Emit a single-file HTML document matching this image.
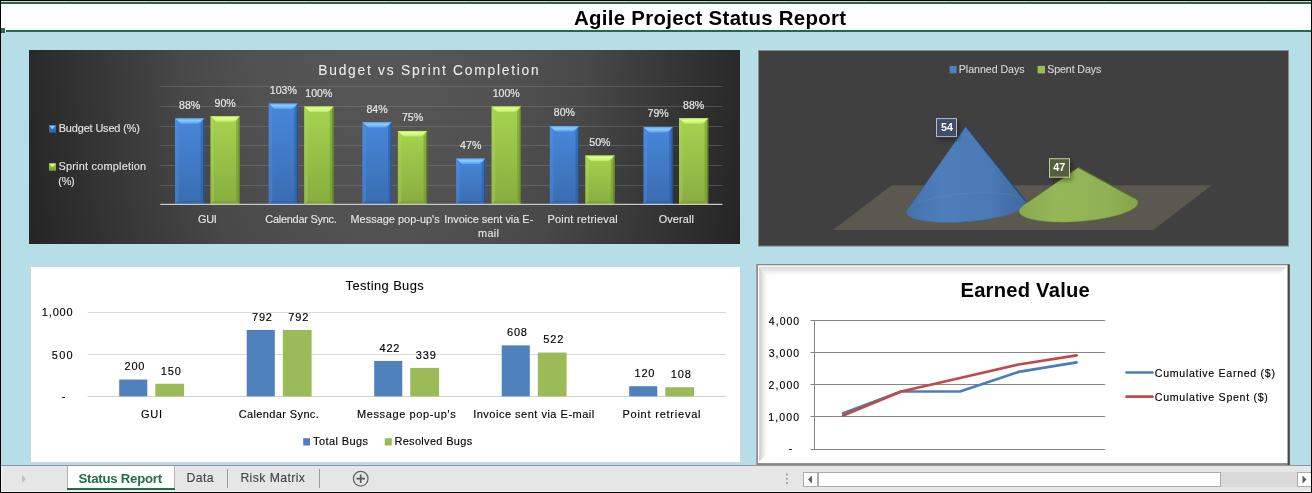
<!DOCTYPE html>
<html><head><meta charset="utf-8"><title>Agile Project Status Report</title>
<style>
html,body{margin:0;padding:0;}
body{width:1312px;height:493px;overflow:hidden;background:#b7dee8;position:relative;font-family:"Liberation Sans",sans-serif;}
.abs{position:absolute;}
.t{position:absolute;white-space:nowrap;line-height:1;-webkit-text-stroke:0.14px currentColor;}
#txt{position:absolute;left:0;top:0;width:1312px;height:493px;will-change:transform;}
svg{position:absolute;left:0;top:0;will-change:transform;}
svg text{font-family:"Liberation Sans",sans-serif;}
</style></head><body>

<div class="abs" style="left:0;top:0;width:1312px;height:32px;background:#fff"></div>
<div class="abs" style="left:0;top:0;width:1312px;height:1px;background:#000"></div>
<div class="abs" style="left:0;top:1px;width:1312px;height:1px;background:#d4d4d4"></div>
<div class="abs" style="left:69px;top:1px;width:1px;height:1px;background:#9a9a9a"></div>
<div class="abs" style="left:149px;top:1px;width:1px;height:1px;background:#9a9a9a"></div>
<div class="abs" style="left:229px;top:1px;width:1px;height:1px;background:#9a9a9a"></div>
<div class="abs" style="left:309px;top:1px;width:1px;height:1px;background:#9a9a9a"></div>
<div class="abs" style="left:389px;top:1px;width:1px;height:1px;background:#9a9a9a"></div>
<div class="abs" style="left:469px;top:1px;width:1px;height:1px;background:#9a9a9a"></div>
<div class="abs" style="left:549px;top:1px;width:1px;height:1px;background:#9a9a9a"></div>
<div class="abs" style="left:629px;top:1px;width:1px;height:1px;background:#9a9a9a"></div>
<div class="abs" style="left:709px;top:1px;width:1px;height:1px;background:#9a9a9a"></div>
<div class="abs" style="left:789px;top:1px;width:1px;height:1px;background:#9a9a9a"></div>
<div class="abs" style="left:869px;top:1px;width:1px;height:1px;background:#9a9a9a"></div>
<div class="abs" style="left:949px;top:1px;width:1px;height:1px;background:#9a9a9a"></div>
<div class="abs" style="left:1029px;top:1px;width:1px;height:1px;background:#9a9a9a"></div>
<div class="abs" style="left:1109px;top:1px;width:1px;height:1px;background:#9a9a9a"></div>
<div class="abs" style="left:1189px;top:1px;width:1px;height:1px;background:#9a9a9a"></div>
<div class="abs" style="left:1269px;top:1px;width:1px;height:1px;background:#9a9a9a"></div>
<div class="abs" style="left:0;top:2px;width:1312px;height:2px;background:#1e6e42"></div>
<div class="abs" style="left:6px;top:30px;width:1306px;height:2px;background:#1e6e42"></div>
<div class="abs" style="left:1px;top:28px;width:4px;height:5px;background:#1e7145"></div>
<div class="abs" style="left:29px;top:50px;width:711px;height:194px;background:radial-gradient(ellipse 385px 700px at 50% -58px,#585858 0%,#515151 35%,#484848 54%,#3f3f3f 64%,#393939 72%,#2b2b2b 90%,#242424 100%)"></div>
<svg width="1312" height="493" viewBox="0 0 1312 493">
<defs>
<linearGradient id="gb" x1="0" y1="0" x2="0" y2="1"><stop offset="0" stop-color="#4787da"/><stop offset="1" stop-color="#3a6db2"/></linearGradient>
<linearGradient id="gg" x1="0" y1="0" x2="0" y2="1"><stop offset="0" stop-color="#a6d350"/><stop offset="1" stop-color="#88ad40"/></linearGradient>
<linearGradient id="gbt" x1="0" y1="0" x2="0" y2="1"><stop offset="0" stop-color="#5fa6f2"/><stop offset="0.4" stop-color="#8accff"/><stop offset="1" stop-color="#5a9ff0"/></linearGradient>
<linearGradient id="ggt" x1="0" y1="0" x2="0" y2="1"><stop offset="0" stop-color="#bdf060"/><stop offset="0.4" stop-color="#e4ff95"/><stop offset="1" stop-color="#b8ea62"/></linearGradient>
<linearGradient id="cone_b" x1="0" y1="0" x2="1" y2="0"><stop offset="0" stop-color="#4471aa"/><stop offset="0.3" stop-color="#4e7fbb"/><stop offset="0.7" stop-color="#4a79b4"/><stop offset="1" stop-color="#3f689e"/></linearGradient>
<linearGradient id="cone_g" x1="0" y1="0" x2="1" y2="0"><stop offset="0" stop-color="#88a84c"/><stop offset="0.3" stop-color="#95b758"/><stop offset="0.75" stop-color="#90b153"/><stop offset="1" stop-color="#84a64a"/></linearGradient>
<filter id="sh" x="-30%" y="-30%" width="180%" height="180%"><feGaussianBlur stdDeviation="2"/></filter>
</defs>
<line x1="160.3" y1="86.50" x2="722.5" y2="86.50" stroke="#8a8a8a" stroke-opacity="0.38" stroke-width="1"/>
<line x1="160.3" y1="106.50" x2="722.5" y2="106.50" stroke="#8a8a8a" stroke-opacity="0.38" stroke-width="1"/>
<line x1="160.3" y1="126.50" x2="722.5" y2="126.50" stroke="#8a8a8a" stroke-opacity="0.38" stroke-width="1"/>
<line x1="160.3" y1="145.50" x2="722.5" y2="145.50" stroke="#8a8a8a" stroke-opacity="0.38" stroke-width="1"/>
<line x1="160.3" y1="165.50" x2="722.5" y2="165.50" stroke="#8a8a8a" stroke-opacity="0.38" stroke-width="1"/>
<line x1="160.3" y1="185.50" x2="722.5" y2="185.50" stroke="#8a8a8a" stroke-opacity="0.38" stroke-width="1"/>
<rect x="175.00" y="118.19" width="29.20" height="85.81" fill="url(#gb)"/><polygon points="175.00,118.19 178.60,123.69 178.60,201.00 175.00,204.00" fill="#5a9cf0" opacity="0.28"/><polygon points="204.20,118.19 200.60,123.69 200.60,201.00 204.20,204.00" fill="#2a5ca6" opacity="0.55"/><rect x="203.10" y="118.69" width="1.1" height="85.31" fill="#1f4680" opacity="0.7"/><polygon points="175.00,204.00 178.60,201.00 200.60,201.00 204.20,204.00" fill="#2f5c98" opacity="0.45"/><polygon points="175.00,118.19 204.20,118.19 198.40,123.69 180.80,123.69" fill="url(#gbt)"/>
<rect x="210.50" y="116.23" width="29.20" height="87.77" fill="url(#gg)"/><polygon points="210.50,116.23 214.10,121.73 214.10,201.00 210.50,204.00" fill="#b4e060" opacity="0.28"/><polygon points="239.70,116.23 236.10,121.73 236.10,201.00 239.70,204.00" fill="#6f962e" opacity="0.55"/><rect x="238.60" y="116.73" width="1.1" height="87.27" fill="#55741f" opacity="0.7"/><polygon points="210.50,204.00 214.10,201.00 236.10,201.00 239.70,204.00" fill="#769838" opacity="0.45"/><polygon points="210.50,116.23 239.70,116.23 233.90,121.73 216.30,121.73" fill="url(#ggt)"/>
<rect x="268.70" y="103.45" width="29.20" height="100.55" fill="url(#gb)"/><polygon points="268.70,103.45 272.30,108.95 272.30,201.00 268.70,204.00" fill="#5a9cf0" opacity="0.28"/><polygon points="297.90,103.45 294.30,108.95 294.30,201.00 297.90,204.00" fill="#2a5ca6" opacity="0.55"/><rect x="296.80" y="103.95" width="1.1" height="100.05" fill="#1f4680" opacity="0.7"/><polygon points="268.70,204.00 272.30,201.00 294.30,201.00 297.90,204.00" fill="#2f5c98" opacity="0.45"/><polygon points="268.70,103.45 297.90,103.45 292.10,108.95 274.50,108.95" fill="url(#gbt)"/>
<rect x="304.20" y="106.40" width="29.20" height="97.60" fill="url(#gg)"/><polygon points="304.20,106.40 307.80,111.90 307.80,201.00 304.20,204.00" fill="#b4e060" opacity="0.28"/><polygon points="333.40,106.40 329.80,111.90 329.80,201.00 333.40,204.00" fill="#6f962e" opacity="0.55"/><rect x="332.30" y="106.90" width="1.1" height="97.10" fill="#55741f" opacity="0.7"/><polygon points="304.20,204.00 307.80,201.00 329.80,201.00 333.40,204.00" fill="#769838" opacity="0.45"/><polygon points="304.20,106.40 333.40,106.40 327.60,111.90 310.00,111.90" fill="url(#ggt)"/>
<rect x="362.40" y="122.12" width="29.20" height="81.88" fill="url(#gb)"/><polygon points="362.40,122.12 366.00,127.62 366.00,201.00 362.40,204.00" fill="#5a9cf0" opacity="0.28"/><polygon points="391.60,122.12 388.00,127.62 388.00,201.00 391.60,204.00" fill="#2a5ca6" opacity="0.55"/><rect x="390.50" y="122.62" width="1.1" height="81.38" fill="#1f4680" opacity="0.7"/><polygon points="362.40,204.00 366.00,201.00 388.00,201.00 391.60,204.00" fill="#2f5c98" opacity="0.45"/><polygon points="362.40,122.12 391.60,122.12 385.80,127.62 368.20,127.62" fill="url(#gbt)"/>
<rect x="397.90" y="130.96" width="29.20" height="73.04" fill="url(#gg)"/><polygon points="397.90,130.96 401.50,136.46 401.50,201.00 397.90,204.00" fill="#b4e060" opacity="0.28"/><polygon points="427.10,130.96 423.50,136.46 423.50,201.00 427.10,204.00" fill="#6f962e" opacity="0.55"/><rect x="426.00" y="131.46" width="1.1" height="72.54" fill="#55741f" opacity="0.7"/><polygon points="397.90,204.00 401.50,201.00 423.50,201.00 427.10,204.00" fill="#769838" opacity="0.45"/><polygon points="397.90,130.96 427.10,130.96 421.30,136.46 403.70,136.46" fill="url(#ggt)"/>
<rect x="456.10" y="158.47" width="29.20" height="45.53" fill="url(#gb)"/><polygon points="456.10,158.47 459.70,163.97 459.70,201.00 456.10,204.00" fill="#5a9cf0" opacity="0.28"/><polygon points="485.30,158.47 481.70,163.97 481.70,201.00 485.30,204.00" fill="#2a5ca6" opacity="0.55"/><rect x="484.20" y="158.97" width="1.1" height="45.03" fill="#1f4680" opacity="0.7"/><polygon points="456.10,204.00 459.70,201.00 481.70,201.00 485.30,204.00" fill="#2f5c98" opacity="0.45"/><polygon points="456.10,158.47 485.30,158.47 479.50,163.97 461.90,163.97" fill="url(#gbt)"/>
<rect x="491.60" y="106.40" width="29.20" height="97.60" fill="url(#gg)"/><polygon points="491.60,106.40 495.20,111.90 495.20,201.00 491.60,204.00" fill="#b4e060" opacity="0.28"/><polygon points="520.80,106.40 517.20,111.90 517.20,201.00 520.80,204.00" fill="#6f962e" opacity="0.55"/><rect x="519.70" y="106.90" width="1.1" height="97.10" fill="#55741f" opacity="0.7"/><polygon points="491.60,204.00 495.20,201.00 517.20,201.00 520.80,204.00" fill="#769838" opacity="0.45"/><polygon points="491.60,106.40 520.80,106.40 515.00,111.90 497.40,111.90" fill="url(#ggt)"/>
<rect x="549.80" y="126.05" width="29.20" height="77.95" fill="url(#gb)"/><polygon points="549.80,126.05 553.40,131.55 553.40,201.00 549.80,204.00" fill="#5a9cf0" opacity="0.28"/><polygon points="579.00,126.05 575.40,131.55 575.40,201.00 579.00,204.00" fill="#2a5ca6" opacity="0.55"/><rect x="577.90" y="126.55" width="1.1" height="77.45" fill="#1f4680" opacity="0.7"/><polygon points="549.80,204.00 553.40,201.00 575.40,201.00 579.00,204.00" fill="#2f5c98" opacity="0.45"/><polygon points="549.80,126.05 579.00,126.05 573.20,131.55 555.60,131.55" fill="url(#gbt)"/>
<rect x="585.30" y="155.53" width="29.20" height="48.47" fill="url(#gg)"/><polygon points="585.30,155.53 588.90,161.03 588.90,201.00 585.30,204.00" fill="#b4e060" opacity="0.28"/><polygon points="614.50,155.53 610.90,161.03 610.90,201.00 614.50,204.00" fill="#6f962e" opacity="0.55"/><rect x="613.40" y="156.03" width="1.1" height="47.97" fill="#55741f" opacity="0.7"/><polygon points="585.30,204.00 588.90,201.00 610.90,201.00 614.50,204.00" fill="#769838" opacity="0.45"/><polygon points="585.30,155.53 614.50,155.53 608.70,161.03 591.10,161.03" fill="url(#ggt)"/>
<rect x="643.50" y="127.03" width="29.20" height="76.97" fill="url(#gb)"/><polygon points="643.50,127.03 647.10,132.53 647.10,201.00 643.50,204.00" fill="#5a9cf0" opacity="0.28"/><polygon points="672.70,127.03 669.10,132.53 669.10,201.00 672.70,204.00" fill="#2a5ca6" opacity="0.55"/><rect x="671.60" y="127.53" width="1.1" height="76.47" fill="#1f4680" opacity="0.7"/><polygon points="643.50,204.00 647.10,201.00 669.10,201.00 672.70,204.00" fill="#2f5c98" opacity="0.45"/><polygon points="643.50,127.03 672.70,127.03 666.90,132.53 649.30,132.53" fill="url(#gbt)"/>
<rect x="679.00" y="118.19" width="29.20" height="85.81" fill="url(#gg)"/><polygon points="679.00,118.19 682.60,123.69 682.60,201.00 679.00,204.00" fill="#b4e060" opacity="0.28"/><polygon points="708.20,118.19 704.60,123.69 704.60,201.00 708.20,204.00" fill="#6f962e" opacity="0.55"/><rect x="707.10" y="118.69" width="1.1" height="85.31" fill="#55741f" opacity="0.7"/><polygon points="679.00,204.00 682.60,201.00 704.60,201.00 708.20,204.00" fill="#769838" opacity="0.45"/><polygon points="679.00,118.19 708.20,118.19 702.40,123.69 684.80,123.69" fill="url(#ggt)"/>
<line x1="160.3" y1="204.30" x2="722.5" y2="204.30" stroke="#c8c8c8" stroke-width="1.2"/>
<text x="189.60" y="108.59" font-size="10.6" fill="#e4e4e4" stroke="#e4e4e4" stroke-width="0.2" text-anchor="middle">88%</text>
<text x="225.10" y="106.63" font-size="10.6" fill="#e4e4e4" stroke="#e4e4e4" stroke-width="0.2" text-anchor="middle">90%</text>
<text x="283.30" y="93.85" font-size="10.6" fill="#e4e4e4" stroke="#e4e4e4" stroke-width="0.2" text-anchor="middle">103%</text>
<text x="318.80" y="96.80" font-size="10.6" fill="#e4e4e4" stroke="#e4e4e4" stroke-width="0.2" text-anchor="middle">100%</text>
<text x="377.00" y="112.52" font-size="10.6" fill="#e4e4e4" stroke="#e4e4e4" stroke-width="0.2" text-anchor="middle">84%</text>
<text x="412.50" y="121.36" font-size="10.6" fill="#e4e4e4" stroke="#e4e4e4" stroke-width="0.2" text-anchor="middle">75%</text>
<text x="470.70" y="148.87" font-size="10.6" fill="#e4e4e4" stroke="#e4e4e4" stroke-width="0.2" text-anchor="middle">47%</text>
<text x="506.20" y="96.80" font-size="10.6" fill="#e4e4e4" stroke="#e4e4e4" stroke-width="0.2" text-anchor="middle">100%</text>
<text x="564.40" y="116.45" font-size="10.6" fill="#e4e4e4" stroke="#e4e4e4" stroke-width="0.2" text-anchor="middle">80%</text>
<text x="599.90" y="145.93" font-size="10.6" fill="#e4e4e4" stroke="#e4e4e4" stroke-width="0.2" text-anchor="middle">50%</text>
<text x="658.10" y="117.43" font-size="10.6" fill="#e4e4e4" stroke="#e4e4e4" stroke-width="0.2" text-anchor="middle">79%</text>
<text x="693.60" y="108.59" font-size="10.6" fill="#e4e4e4" stroke="#e4e4e4" stroke-width="0.2" text-anchor="middle">88%</text>
<linearGradient id="mkb" x1="0" y1="0" x2="0" y2="1"><stop offset="0" stop-color="#3d7dd2"/><stop offset="1" stop-color="#2a5ea6"/></linearGradient><rect x="49" y="125.2" width="7" height="7.5" fill="url(#mkb)"/><polygon points="49.3,125.7 55.5,125.7 52.4,129.2" fill="#8ed0ff" opacity="0.95"/>
<linearGradient id="mkg" x1="0" y1="0" x2="0" y2="1"><stop offset="0" stop-color="#98c844"/><stop offset="1" stop-color="#7aa236"/></linearGradient><rect x="49" y="163.2" width="7" height="7.5" fill="url(#mkg)"/><polygon points="49.3,163.7 55.5,163.7 52.4,167.2" fill="#e4ff98" opacity="0.95"/>
<rect x="758.5" y="50.5" width="530" height="195.6" fill="#404040" stroke="#8a8a8a" stroke-width="1"/>
<polygon points="891.7,185.2 1211.7,185.2 1153.3,230 832.9,230" fill="#5b5850"/>
<path d="M965.80,126.40 L1025.19,200.63 L1025.70,201.41 L1026.01,202.22 L1026.12,203.04 L1026.02,203.87 L1025.72,204.72 L1025.23,205.58 L1024.53,206.44 L1023.63,207.31 L1022.54,208.18 L1021.26,209.05 L1019.80,209.91 L1018.15,210.77 L1016.33,211.61 L1014.34,212.44 L1012.18,213.25 L1009.87,214.05 L1007.42,214.82 L1004.82,215.57 L1002.10,216.29 L999.25,216.99 L996.29,217.65 L993.23,218.27 L990.08,218.86 L986.85,219.42 L983.55,219.93 L980.19,220.40 L976.78,220.83 L973.34,221.21 L969.87,221.55 L966.39,221.84 L962.92,222.08 L959.45,222.27 L956.01,222.41 L952.60,222.50 L949.24,222.55 L945.93,222.54 L942.69,222.48 L939.54,222.37 L936.47,222.21 L933.51,222.00 L930.66,221.74 L927.92,221.44 L925.32,221.09 L922.86,220.69 L920.54,220.25 L918.38,219.76 L916.38,219.24 L914.54,218.67 L912.89,218.07 L911.41,217.43 L910.12,216.76 L909.02,216.06 L908.12,215.32 L907.41,214.57 L906.90,213.79 L906.59,212.98 L906.48,212.16 L906.58,211.33 L906.88,210.48 L907.37,209.62 Z" fill="url(#cone_b)" stroke="#274571" stroke-width="0.6" stroke-opacity="0.6" stroke-linejoin="round"/><ellipse cx="966.3" cy="207.6" rx="60.0" ry="14.2" transform="rotate(-4.6 966.3 207.6)" fill="none" stroke="#6a98d0" stroke-width="0.7" opacity="0.3"/><path d="M965.80,126.40 L1025.19,200.63" stroke="#274571" stroke-width="1.3" stroke-opacity="0.85" fill="none" stroke-linecap="round"/>
<path d="M1078.40,167.40 L1133.69,197.76 L1134.99,198.55 L1136.05,199.39 L1136.87,200.25 L1137.44,201.14 L1137.76,202.06 L1137.84,203.00 L1137.66,203.95 L1137.24,204.92 L1136.57,205.89 L1135.65,206.87 L1134.50,207.85 L1133.10,208.83 L1131.48,209.80 L1129.64,210.76 L1127.58,211.70 L1125.32,212.62 L1122.85,213.52 L1120.20,214.39 L1117.38,215.23 L1114.39,216.04 L1111.25,216.81 L1107.98,217.53 L1104.58,218.22 L1101.07,218.85 L1097.46,219.44 L1093.78,219.97 L1090.03,220.45 L1086.23,220.87 L1082.40,221.23 L1078.55,221.53 L1074.70,221.78 L1070.87,221.96 L1067.08,222.07 L1063.32,222.13 L1059.64,222.12 L1056.03,222.04 L1052.52,221.91 L1049.11,221.71 L1045.83,221.45 L1042.69,221.12 L1039.70,220.74 L1036.87,220.30 L1034.22,219.81 L1031.75,219.26 L1029.48,218.66 L1027.41,218.01 L1025.56,217.31 L1023.94,216.57 L1022.54,215.79 L1021.38,214.98 L1020.45,214.13 L1019.78,213.25 L1019.35,212.34 L1019.16,211.41 L1019.23,210.46 L1019.55,209.50 L1020.11,208.53 L1020.92,207.55 L1021.98,206.57 L1023.27,205.59 Z" fill="url(#cone_g)" stroke="#55702a" stroke-width="0.6" stroke-opacity="0.6" stroke-linejoin="round"/><ellipse cx="1078.5" cy="207.0" rx="59.5" ry="14.5" transform="rotate(-4.3 1078.5 207.0)" fill="none" stroke="#a6c468" stroke-width="0.7" opacity="0.18"/><path d="M1078.40,167.40 L1133.69,197.76" stroke="#55702a" stroke-width="1.3" stroke-opacity="0.85" fill="none" stroke-linecap="round"/>
<rect x="938" y="121" width="21" height="19" fill="#000" opacity="0.35" filter="url(#sh)"/>
<rect x="1051" y="161" width="21" height="19.5" fill="#000" opacity="0.35" filter="url(#sh)"/>
<rect x="936.5" y="118.6" width="20" height="18" fill="#3f4e68" stroke="#b4bcc8" stroke-width="1"/>
<rect x="1049.5" y="158.7" width="20" height="18.5" fill="#555e3c" stroke="#c4cab0" stroke-width="1"/>
<text x="947" y="130.5" font-size="10.8" font-weight="bold" fill="#fff" text-anchor="middle">54</text>
<text x="1059.3" y="171" font-size="10.8" font-weight="bold" fill="#fff" text-anchor="middle">47</text>
<rect x="949.6" y="65.9" width="7" height="7.5" fill="#4f81bd"/>
<rect x="1037.6" y="65.9" width="7.4" height="7.5" fill="#9bbb59"/>
<rect x="30.5" y="266.5" width="710" height="196" fill="#fff" stroke="#d4d4d4" stroke-width="1"/>
<line x1="87.6" y1="312.5" x2="726" y2="312.5" stroke="#d9d9d9" stroke-width="1"/>
<line x1="87.6" y1="354.5" x2="726" y2="354.5" stroke="#d9d9d9" stroke-width="1"/>
<line x1="87.6" y1="396.5" x2="726" y2="396.5" stroke="#d0d0d0" stroke-width="1"/>
<rect x="119.20" y="379.54" width="28.1" height="16.76" fill="#4f81bd"/>
<rect x="155.30" y="383.73" width="28.8" height="12.57" fill="#9bbb59"/>
<text x="134.90" y="370.44" font-size="11" letter-spacing="0.85" fill="#000" stroke="#000" stroke-width="0.14" text-anchor="middle">200</text>
<text x="171.30" y="374.63" font-size="11" letter-spacing="0.85" fill="#000" stroke="#000" stroke-width="0.14" text-anchor="middle">150</text>
<rect x="246.70" y="329.93" width="28.1" height="66.37" fill="#4f81bd"/>
<rect x="282.80" y="329.93" width="28.8" height="66.37" fill="#9bbb59"/>
<text x="262.40" y="320.83" font-size="11" letter-spacing="0.85" fill="#000" stroke="#000" stroke-width="0.14" text-anchor="middle">792</text>
<text x="298.80" y="320.83" font-size="11" letter-spacing="0.85" fill="#000" stroke="#000" stroke-width="0.14" text-anchor="middle">792</text>
<rect x="374.20" y="360.94" width="28.1" height="35.36" fill="#4f81bd"/>
<rect x="410.30" y="367.89" width="28.8" height="28.41" fill="#9bbb59"/>
<text x="389.90" y="351.84" font-size="11" letter-spacing="0.85" fill="#000" stroke="#000" stroke-width="0.14" text-anchor="middle">422</text>
<text x="426.30" y="358.79" font-size="11" letter-spacing="0.85" fill="#000" stroke="#000" stroke-width="0.14" text-anchor="middle">339</text>
<rect x="501.70" y="345.35" width="28.1" height="50.95" fill="#4f81bd"/>
<rect x="537.80" y="352.56" width="28.8" height="43.74" fill="#9bbb59"/>
<text x="517.40" y="336.25" font-size="11" letter-spacing="0.85" fill="#000" stroke="#000" stroke-width="0.14" text-anchor="middle">608</text>
<text x="553.80" y="343.46" font-size="11" letter-spacing="0.85" fill="#000" stroke="#000" stroke-width="0.14" text-anchor="middle">522</text>
<rect x="629.20" y="386.24" width="28.1" height="10.06" fill="#4f81bd"/>
<rect x="665.30" y="387.25" width="28.8" height="9.05" fill="#9bbb59"/>
<text x="644.90" y="377.14" font-size="11" letter-spacing="0.85" fill="#000" stroke="#000" stroke-width="0.14" text-anchor="middle">120</text>
<text x="681.30" y="378.15" font-size="11" letter-spacing="0.85" fill="#000" stroke="#000" stroke-width="0.14" text-anchor="middle">108</text>
<rect x="303.2" y="438.2" width="6.8" height="7.3" fill="#4f81bd"/>
<rect x="384.8" y="438.2" width="7" height="7.3" fill="#9bbb59"/>
<linearGradient id="bvl" x1="0" y1="0" x2="1" y2="0"><stop offset="0" stop-color="#cbcbcb"/><stop offset="0.45" stop-color="#e6e6e6"/><stop offset="1" stop-color="#ffffff"/></linearGradient>
<linearGradient id="bvt" x1="0" y1="0" x2="0" y2="1"><stop offset="0" stop-color="#d6d6d6"/><stop offset="0.3" stop-color="#e2e2e2"/><stop offset="1" stop-color="#ffffff"/></linearGradient>
<rect x="756.3" y="264" width="533.4" height="201.6" fill="#878787"/>
<rect x="757.9" y="265.3" width="529.9" height="197.8" fill="#fff"/>
<rect x="1287.7" y="264.6" width="2" height="200.6" fill="#464646"/>
<rect x="1287.1" y="266" width="0.7" height="197" fill="#a8a8a8"/>
<polygon points="759.2,266.8 1286.6,266.8 1278.8,274.8 766.9,274.8" fill="url(#bvt)"/>
<polygon points="759.2,266.8 766.9,274.8 766.9,454 759.2,461.4" fill="url(#bvl)"/>
<line x1="810.4" y1="449.50" x2="1105.2" y2="449.50" stroke="#868686" stroke-width="1"/>
<line x1="810.4" y1="416.50" x2="1105.2" y2="416.50" stroke="#868686" stroke-width="1"/>
<line x1="810.4" y1="384.50" x2="1105.2" y2="384.50" stroke="#868686" stroke-width="1"/>
<line x1="810.4" y1="352.50" x2="1105.2" y2="352.50" stroke="#868686" stroke-width="1"/>
<line x1="810.4" y1="320.50" x2="1105.2" y2="320.50" stroke="#868686" stroke-width="1"/>
<line x1="814.5" y1="320.5" x2="814.5" y2="449.5" stroke="#868686" stroke-width="1"/>
<polyline points="843.1,413.3 901.2,391.5 960,391.5 1018.6,371.9 1076.6,362.3" fill="none" stroke="#4a7ebb" stroke-width="2.7" stroke-linejoin="round" stroke-linecap="round"/>
<polyline points="843.1,415.5 901.2,391.5 960,378 1018.6,364.5 1076.6,355.3" fill="none" stroke="#be4b48" stroke-width="2.7" stroke-linejoin="round" stroke-linecap="round"/>
<line x1="1126.5" y1="372.5" x2="1152.5" y2="372.5" stroke="#4a7ebb" stroke-width="2.7" stroke-linecap="round"/>
<line x1="1126.5" y1="396.7" x2="1152.5" y2="396.7" stroke="#be4b48" stroke-width="2.7" stroke-linecap="round"/>
</svg>
<div class="abs" style="left:0;top:465px;width:1312px;height:1px;background:#949494"></div>
<div class="abs" style="left:0;top:466px;width:1312px;height:26px;background:#e6e6e6"></div>
<div class="abs" style="left:67px;top:466px;width:108px;height:22px;background:#fff"></div>
<div class="abs" style="left:67px;top:488px;width:108px;height:2px;background:#1e7145"></div>
<div class="abs" style="left:67px;top:466px;width:1px;height:22px;background:#b4b4b4"></div>
<div class="abs" style="left:174px;top:466px;width:1px;height:22px;background:#b4b4b4"></div>
<div class="abs" style="left:227px;top:469px;width:1px;height:19px;background:#9a9a9a"></div>
<div class="abs" style="left:319px;top:469px;width:1px;height:19px;background:#9a9a9a"></div>
<svg width="1312" height="493" viewBox="0 0 1312 493">
<polygon points="22,475 22,483 26,479" fill="#c0c0c0"/>
<circle cx="360.7" cy="478.7" r="7.3" fill="none" stroke="#666" stroke-width="1.25"/>
<path d="M356.4 478.7h8.6M360.7 474.4v8.6" stroke="#5a5a5a" stroke-width="1.7" fill="none"/>
<rect x="786" y="473.6" width="1.8" height="1.8" fill="#9a9a9a"/>
<rect x="786" y="477.8" width="1.8" height="1.8" fill="#9a9a9a"/>
<rect x="786" y="482.0" width="1.8" height="1.8" fill="#9a9a9a"/>
<rect x="818" y="472" width="479" height="15" fill="#dadada"/>
<rect x="803.5" y="472.5" width="14" height="14" fill="#fff" stroke="#ababab"/>
<rect x="818.5" y="472.5" width="402" height="14" fill="#fff" stroke="#ababab"/>
<rect x="1297.5" y="472.5" width="14" height="14" fill="#fff" stroke="#ababab"/>
<polygon points="812,475.5 812,483.5 808,479.5" fill="#606060"/>
<polygon points="1302.5,475.5 1302.5,483.5 1306.5,479.5" fill="#606060"/>
</svg>
<div id="txt">
<div class="t" id="title" style="left:573.89px;top:7.73px;font-size:20.4px;color:#000;letter-spacing:0.317px;font-weight:bold;-webkit-text-stroke:0;">Agile Project Status Report</div>
<div class="t" id="c1title" style="left:318.27px;top:63.52px;font-size:13.8px;color:#ececec;letter-spacing:1.751px;-webkit-text-stroke:0.08px currentColor;">Budget vs Sprint Completion</div>
<div class="t" id="c1l1" style="left:58.71px;top:122.87px;font-size:10.9px;color:#e4e4e4;letter-spacing:-0.124px;">Budget Used (%)</div>
<div class="t" id="c1l2" style="left:58.51px;top:160.77px;font-size:10.9px;color:#e4e4e4;letter-spacing:0.218px;">Sprint completion</div>
<div class="t" id="c1l3" style="left:58.32px;top:175.77px;font-size:10.9px;color:#e4e4e4;letter-spacing:-0.300px;">(%)</div>
<div class="t" id="c1a0" style="left:198.05px;top:213.87px;font-size:10.9px;color:#e4e4e4;letter-spacing:-0.262px;">GUI</div>
<div class="t" id="c1a1" style="left:265.25px;top:213.87px;font-size:10.9px;color:#e4e4e4;letter-spacing:-0.229px;">Calendar Sync.</div>
<div class="t" id="c1a2" style="left:350.51px;top:213.87px;font-size:10.9px;color:#e4e4e4;letter-spacing:0.031px;">Message pop-up's</div>
<div class="t" id="c1a3" style="left:444.29px;top:213.87px;font-size:10.9px;color:#e4e4e4;">Invoice sent via E-</div>
<div class="t" id="c1a4" style="left:547.51px;top:213.87px;font-size:10.9px;color:#e4e4e4;letter-spacing:0.263px;">Point retrieval</div>
<div class="t" id="c1a5" style="left:658.68px;top:213.87px;font-size:10.9px;color:#e4e4e4;letter-spacing:0.137px;">Overall</div>
<div class="t" id="c1a3b" style="left:478.08px;top:228.47px;font-size:10.9px;color:#e4e4e4;letter-spacing:0.323px;">mail</div>
<div class="t" id="c2l1" style="left:958.83px;top:64.03px;font-size:10.6px;color:#d4d4d4;letter-spacing:-0.031px;">Planned Days</div>
<div class="t" id="c2l2" style="left:1047.22px;top:64.03px;font-size:10.6px;color:#d4d4d4;letter-spacing:-0.081px;">Spent Days</div>
<div class="t" id="c3title" style="left:345.61px;top:279.68px;font-size:12.9px;color:#000;letter-spacing:0.388px;-webkit-text-stroke:0.08px currentColor;">Testing Bugs</div>
<div class="t" id="c3y0" style="left:41.76px;top:306.69px;font-size:11px;color:#000;letter-spacing:0.860px;">1,000</div>
<div class="t" id="c3y1" style="left:51.76px;top:349.69px;font-size:11px;color:#000;letter-spacing:1.309px;">500</div>
<div class="t" id="c3y2" style="left:61.71px;top:391.19px;font-size:11px;color:#000;">-</div>
<div class="t" id="c3a0" style="left:140.95px;top:408.89px;font-size:11px;color:#000;letter-spacing:0.756px;">GUI</div>
<div class="t" id="c3a1" style="left:238.74px;top:408.89px;font-size:11px;color:#000;letter-spacing:0.374px;">Calendar Sync.</div>
<div class="t" id="c3a2" style="left:357.00px;top:408.89px;font-size:11px;color:#000;letter-spacing:0.611px;">Message pop-up's</div>
<div class="t" id="c3a3" style="left:473.18px;top:408.89px;font-size:11px;color:#000;letter-spacing:0.500px;">Invoice sent via E-mail</div>
<div class="t" id="c3a4" style="left:622.40px;top:408.89px;font-size:11px;color:#000;letter-spacing:0.778px;">Point retrieval</div>
<div class="t" id="c3l1" style="left:313.05px;top:436.39px;font-size:11px;color:#000;letter-spacing:0.407px;">Total Bugs</div>
<div class="t" id="c3l2" style="left:394.40px;top:436.39px;font-size:11px;color:#000;letter-spacing:0.318px;">Resolved Bugs</div>
<div class="t" id="c4title" style="left:960.45px;top:279.70px;font-size:20.2px;color:#000;letter-spacing:0.232px;font-weight:bold;-webkit-text-stroke:0;">Earned Value</div>
<div class="t" id="c4y0" style="left:768.30px;top:411.81px;font-size:10.5px;color:#000;letter-spacing:1.159px;">1,000</div>
<div class="t" id="c4y1" style="left:768.57px;top:379.81px;font-size:10.5px;color:#000;letter-spacing:1.091px;">2,000</div>
<div class="t" id="c4y2" style="left:768.70px;top:347.81px;font-size:10.5px;color:#000;letter-spacing:1.059px;">3,000</div>
<div class="t" id="c4y3" style="left:768.86px;top:315.81px;font-size:10.5px;color:#000;letter-spacing:1.019px;">4,000</div>
<div class="t" id="c4y_" style="left:788.73px;top:443.31px;font-size:10.5px;color:#000;">-</div>
<div class="t" id="c4l1" style="left:1154.86px;top:367.73px;font-size:10.6px;color:#000;letter-spacing:0.707px;">Cumulative Earned ($)</div>
<div class="t" id="c4l2" style="left:1154.86px;top:391.73px;font-size:10.6px;color:#000;letter-spacing:0.712px;">Cumulative Spent ($)</div>
<div class="t" id="tab1" style="left:78.52px;top:471.73px;font-size:13.2px;color:#1e7145;letter-spacing:-0.242px;font-weight:bold;-webkit-text-stroke:0;">Status Report</div>
<div class="t" id="tab2" style="left:186.50px;top:472.47px;font-size:12.2px;color:#444;letter-spacing:0.444px;">Data</div>
<div class="t" id="tab3" style="left:240.40px;top:472.47px;font-size:12.2px;color:#444;letter-spacing:0.431px;">Risk Matrix</div>
</div>
<div class="abs" style="left:0;top:0;width:1px;height:493px;background:#000"></div>
<div class="abs" style="left:1311px;top:0;width:1px;height:493px;background:#000"></div>
<div class="abs" style="left:1px;top:491px;width:1310px;height:1px;background:#f4f4f4"></div>
<div class="abs" style="left:1px;top:466px;width:1px;height:26px;background:#f4f4f4"></div>
<div class="abs" style="left:0;top:492px;width:1312px;height:1px;background:#000"></div>
</body></html>
